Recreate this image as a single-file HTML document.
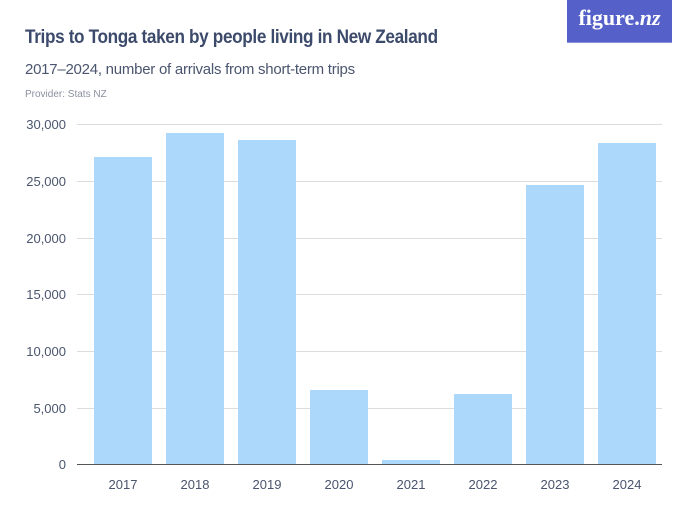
<!DOCTYPE html>
<html><head><meta charset="utf-8"><style>
body{margin:0;width:700px;height:525px;background:#fff;font-family:"Liberation Sans",sans-serif;position:relative;overflow:hidden}
.t{position:absolute;white-space:nowrap}
</style></head><body>
<div class="t" style="left:25px;top:27px;font-size:19px;font-weight:bold;color:#3c4a6b;letter-spacing:-0.4px;transform:scaleX(0.905);transform-origin:0 0">Trips to Tonga taken by people living in New Zealand</div>
<div class="t" style="left:25px;top:61px;font-size:15px;color:#4a556e;letter-spacing:-0.25px">2017–2024, number of arrivals from short-term trips</div>
<div class="t" style="left:25px;top:89px;font-size:10px;color:#8a90a0">Provider: Stats NZ</div>
<div style="position:absolute;left:567px;top:0;width:105px;height:42px;background:#5560c8;border-bottom:1px solid #8a93e0"></div>
<div class="t" style="left:567px;top:5px;width:105px;text-align:center;font-family:'Liberation Serif',serif;font-size:22px;font-weight:bold;color:#fff">figure.<i>nz</i></div>
<svg width="700" height="525" style="position:absolute;left:0;top:0">
<g stroke="#dcdcdc" stroke-width="1">
<line x1="77" x2="662" y1="124.5" y2="124.5"/><line x1="77" x2="662" y1="181.5" y2="181.5"/><line x1="77" x2="662" y1="238.5" y2="238.5"/><line x1="77" x2="662" y1="294.5" y2="294.5"/><line x1="77" x2="662" y1="351.5" y2="351.5"/><line x1="77" x2="662" y1="408.5" y2="408.5"/>
</g>
<g fill="#acd8fb">
<rect x="94" y="157" width="58" height="307"/>
<rect x="166" y="133" width="58" height="331"/>
<rect x="238" y="140" width="58" height="324"/>
<rect x="310" y="390" width="58" height="74"/>
<rect x="382" y="460" width="58" height="4"/>
<rect x="454" y="394" width="58" height="70"/>
<rect x="526" y="185" width="58" height="279"/>
<rect x="598" y="143" width="58" height="321"/>
</g>
<line x1="77" x2="662" y1="464.5" y2="464.5" stroke="#555" stroke-width="1"/>
<g font-family="Liberation Sans,sans-serif" font-size="13" fill="#4a556e" text-anchor="end">
<text x="66" y="129">30,000</text><text x="66" y="186">25,000</text><text x="66" y="243">20,000</text><text x="66" y="299">15,000</text><text x="66" y="356">10,000</text><text x="66" y="413">5,000</text><text x="66" y="469">0</text>
</g>
<g font-family="Liberation Sans,sans-serif" font-size="13" fill="#4a556e" text-anchor="middle">
<text x="123" y="489">2017</text><text x="195" y="489">2018</text><text x="267" y="489">2019</text><text x="339" y="489">2020</text><text x="411" y="489">2021</text><text x="483" y="489">2022</text><text x="555" y="489">2023</text><text x="627" y="489">2024</text>
</g>
</svg>
</body></html>
